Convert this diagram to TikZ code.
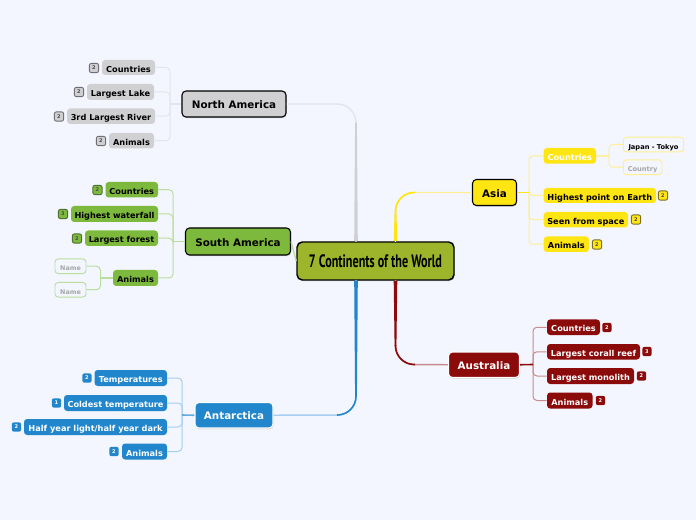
\documentclass[tikz,border=0pt]{standalone}
\usepackage{fontspec}
\setmainfont{DejaVu Sans}
\newfontfamily\titlefont{PT Sans}
\usetikzlibrary{shadows}
\definecolor{bgc}{HTML}{F3F6FF}
\definecolor{nac}{HTML}{D0D0D2}\definecolor{nal}{HTML}{E3E5EC}\definecolor{nab}{HTML}{707074}
\definecolor{sac}{HTML}{7DB93C}\definecolor{sal}{HTML}{BBDD9E}\definecolor{sab}{HTML}{4E7030}
\definecolor{anc}{HTML}{2186CB}\definecolor{anl}{HTML}{A6CEEE}
\definecolor{asc}{HTML}{FFE512}\definecolor{asl}{HTML}{FFEF90}\definecolor{asb}{HTML}{7A6F20}
\definecolor{auc}{HTML}{8B0A0A}\definecolor{aul}{HTML}{C98A8C}
\definecolor{cec}{HTML}{9DB52B}
\tikzset{x=0.75pt,y=-0.75pt,
 base/.style={inner sep=0pt,rounded corners=2.4pt,text height=.9em,text depth=.2em,font=\fontsize{6.15}{8}\selectfont\bfseries,text=black},
 major/.style={base,rounded corners=3pt,draw=black,line width=.8pt,font=\fontsize{7.75}{10}\selectfont\bfseries,
   drop shadow={shadow xshift=.4pt,shadow yshift=-.9pt,opacity=.35}},
 majorw/.style={major,draw=white,text=white},
 centre/.style={inner sep=0pt,rounded corners=4pt,draw=black,line width=1.1pt,fill=cec,text=black,
   drop shadow={shadow xshift=.4pt,shadow yshift=-.9pt,opacity=.35}},
 leafna/.style={base,fill=nac}, leafsa/.style={base,fill=sac},
 leafan/.style={base,fill=anc,text=white}, leafas/.style={base,fill=asc},
 leafau/.style={base,fill=auc,text=white},
 leafasw/.style={leafas,text=white},
 subsa/.style={base,fill=bgc,draw=sal,line width=.7pt,text=black!35,font=\fontsize{4.8}{6}\selectfont\bfseries},
 subas/.style={base,fill=bgc,draw=asl,line width=.7pt,font=\fontsize{5}{6}\selectfont\bfseries},
 subasg/.style={subas,text=black!35},
 badge/.style={inner sep=0pt,rounded corners=1.6pt,minimum width=7pt,minimum height=7pt,line width=.7pt,font=\fontsize{3.8}{4}\selectfont\bfseries},
 bna/.style={badge,fill=nac,draw=nab,text=black!70},
 bsa/.style={badge,fill=sac,draw=sab,text=black!70},
 bas/.style={badge,fill=asc,draw=asb,text=black!70},
 ban/.style={badge,fill=anc,text=white},
 bau/.style={badge,fill=auc,text=white},
 twig/.style={line width=.75pt,rounded corners=3pt},
 stub/.style={line width=1.2pt},
 limbthin/.style={line width=1.1pt,rounded corners=14pt},
 limbarc/.style={line width=1.2pt,rounded corners=14pt},
}
\newcommand\bx[7]{\node[#6,minimum width={(#4-#2)*0.75pt},minimum height={(#5-#3)*0.75pt}] (#1) at ({(#2+#4)/2},{(#3+#5)/2}) {#7};}
\newcommand\bd[5]{\node[#4] (#1) at (#2,#3) {#5};}
% tapered trunk: x, thin end y, thick end y, colour
\newcommand\taper[4]{\fill[#4] (#1-.9,#2) -- (#1+.9,#2) -- (#1+1.8,#3) -- (#1-1.8,#3) -- cycle;}
\begin{document}
\begin{tikzpicture}
\useasboundingbox[fill=bgc] (0,0) rectangle (696,520);
% nodes
\bx{ce}{297}{242}{454}{280}{centre}{\titlefont\fontsize{13.5}{16}\selectfont\bfseries\scalebox{.675}[1]{7 Continents of the World}}
\bx{na}{182}{91}{286}{117}{major,fill=nac}{North America}
\bx{sa}{185.5}{228}{290.5}{255}{major,fill=sac}{South America}
\bx{an}{195}{402.5}{273}{428}{majorw,fill=anc}{Antarctica}
\bx{as}{472.5}{179.5}{516.5}{205.5}{major,fill=asc}{Asia}
\bx{au}{448.5}{352}{519.5}{377.5}{majorw,fill=auc}{Australia}
% North America
\bx{na1}{102}{60}{155}{75}{leafna}{Countries}
\bx{na2}{87}{84}{154}{100}{leafna}{Largest Lake}
\bx{na3}{67}{108.5}{155}{124}{leafna}{3rd Largest River}
\bx{na4}{109}{133}{154}{148.5}{leafna}{Animals}
\bd{bna1}{94}{68}{bna}{2}\bd{bna2}{79}{92}{bna}{2}\bd{bna3}{59}{116.5}{bna}{2}\bd{bna4}{101}{141}{bna}{2}
% South America
\bx{sa1}{105.5}{182}{158}{197.5}{leafsa}{Countries}
\bx{sa2}{71}{206}{158}{222}{leafsa}{Highest waterfall}
\bx{sa3}{85}{230.5}{158}{246}{leafsa}{Largest forest}
\bx{sa4}{113}{270}{158}{286}{leafsa}{Animals}
\bd{bsa1}{97.5}{190}{bsa}{2}\bd{bsa2}{63}{214}{bsa}{3}\bd{bsa3}{77}{238.5}{bsa}{2}
\bx{sa5}{55}{259}{86}{273.5}{subsa}{Name}
\bx{sa6}{55}{282.5}{86}{297}{subsa}{Name}
% Antarctica
\bx{an1}{94.5}{370}{167}{386}{leafan}{Temperatures}
\bx{an2}{64}{395}{167}{411}{leafan}{Coldest temperature}
\bx{an3}{24}{419}{167}{435}{leafan}{Half year light/half year dark}
\bx{an4}{122}{443.5}{167}{459.5}{leafan}{Animals}
\bd{ban1}{87}{378}{ban}{2}\bd{ban2}{56.5}{403}{ban}{1}\bd{ban3}{16.5}{427}{ban}{2}\bd{ban4}{114}{451.5}{ban}{2}
% Asia
\bx{as1}{543.7}{148}{596}{163.7}{leafasw}{Countries}
\bx{as2}{543.7}{188}{656}{203}{leafas}{Highest point on Earth}
\bx{as3}{543.7}{212}{628}{227.5}{leafas}{Seen from space}
\bx{as4}{543.7}{236.5}{589}{252}{leafas}{Animals}
\bd{bas2}{663}{195.5}{bas}{2}\bd{bas3}{636}{219.5}{bas}{2}\bd{bas4}{597}{244.5}{bas}{2}
\bx{as5}{623.3}{137.5}{683.7}{151.5}{subas}{Japan - Tokyo}
\bx{as6}{623.3}{160}{662}{174.5}{subasg}{Country}
% Australia
\bx{au1}{547}{319.5}{600}{335}{leafau}{Countries}
\bx{au2}{547}{344}{640}{359.5}{leafau}{Largest corall reef}
\bx{au3}{547}{368}{634}{384}{leafau}{Largest monolith}
\bx{au4}{547}{392.5}{592.5}{408.5}{leafau}{Animals}
\bd{bau1}{607}{327.5}{bau}{2}\bd{bau2}{647}{351.5}{bau}{3}\bd{bau3}{641.5}{376}{bau}{2}\bd{bau4}{600.5}{400.5}{bau}{2}
% junctions and limb bends
\coordinate (jna) at (170,104);\coordinate (jsa) at (173,241.5);\coordinate (jsb) at (100.5,278);
\coordinate (jan) at (182,415);\coordinate (jas) at (529,192.5);\coordinate (jat) at (609,155.8);
\coordinate (jau) at (533,364.5);
\coordinate (tn) at (356,104);\coordinate (tn2) at (356,242);
\coordinate (ta) at (356,415);\coordinate (ta2) at (356,280);
\coordinate (ts) at (395.5,192.5);\coordinate (ts2) at (395.5,242);
\coordinate (tu) at (395.5,364.5);\coordinate (tu2) at (395.5,280);
% limbs
\draw[limbthin,nal] (na.east) -- (tn) -- (tn2);
\taper{356}{122.7}{241}{nac}
\draw[line width=1pt,sal] (sa.east) -- (ce.west);
\draw[limbthin,anl] (an.east) -- (ta) -- (ta2);
\draw[limbarc,anc] (337,415) -- (ta) -- (356,396);
\taper{356}{396.5}{281}{anc}
\draw[limbthin,asl] (as.west) -- (ts) -- (ts2);
\draw[limbarc,asc] (415,192.5) -- (ts) -- (395.5,212);
\taper{395.5}{211}{241}{asc}
\draw[limbthin,aul] (au.west) -- (tu) -- (tu2);
\draw[limbarc,auc] (415,364.5) -- (tu) -- (395.5,345);
\taper{395.5}{346}{281}{auc}
% branches
\foreach \c in {na1,na2,na3,na4} \draw[twig,nal] (\c.east) -| (jna);
\draw[stub,nal] (jna) -- (na.west);
\foreach \c in {sa1,sa2,sa3,sa4} \draw[twig,sal] (\c.east) -| (jsa);
\draw[stub,sal] (jsa) -- (sa.west);
\foreach \c in {sa5,sa6} \draw[twig,sal] (\c.east) -| (jsb);
\draw[stub,sal] (jsb) -- (sa4.west);
\foreach \c in {an1,an2,an3,an4} \draw[twig,anl] (\c.east) -| (jan);
\draw[stub,anc!70] (jan) -- (an.west);
\foreach \c in {as1,as2,as3,as4} \draw[twig,asl] (\c.west) -| (jas);
\draw[stub,asc] (jas) -- (as.east);
\foreach \c in {as5,as6} \draw[twig,asl] (\c.west) -| (jat);
\draw[stub,asl] (jat) -- (as1.east);
\foreach \c in {au1,au2,au3,au4} \draw[twig,aul] (\c.west) -| (jau);
\draw[stub,auc] (jau) -- (au.east);
\end{tikzpicture}
\end{document}
